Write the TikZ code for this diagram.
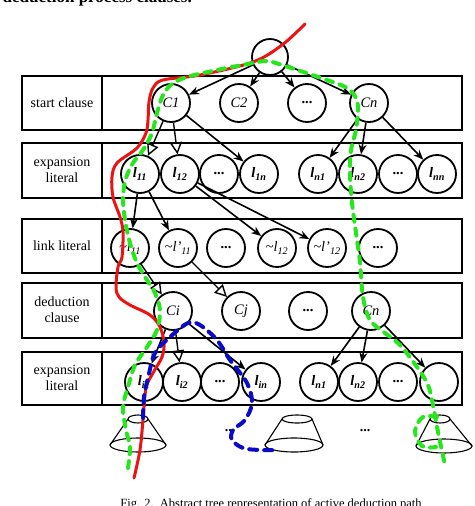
\documentclass[tikz,border=0pt]{standalone}
\usepackage{fontspec}
\setmainfont{Liberation Serif}
\usetikzlibrary{arrows.meta}
\definecolor{pathred}{RGB}{235,20,20}
\definecolor{pathgreen}{RGB}{40,230,30}
\definecolor{pathblue}{RGB}{10,10,200}
\newcommand{\bl}[1]{\textbf{\textit{l}}\textsubscript{\textbf{\textit{#1}}}}
\newcommand{\nl}[1]{\textasciitilde\textit{l}\textsubscript{\textit{#1}}}
\newcommand{\npl}[1]{\textasciitilde\textit{l'}\textsubscript{\textit{#1}}}
\newcommand{\dts}{\textbf{\upshape ...}}
\begin{document}
\begin{tikzpicture}[x=1pt,y=-1pt,
  lay/.style={draw, line width=1.3pt},
  nd/.style={circle, draw, line width=1.8pt, minimum size=38pt, inner sep=0pt,
    font=\fontsize{14.5}{16}\selectfont\itshape},
  lbl/.style={align=center, font=\fontsize{14}{16}\selectfont},
  arr/.style={-{Stealth[length=10pt,width=8pt]}, line width=1.6pt},
  harr/.style={-{Triangle[open,length=12pt,width=12pt]}, line width=1.4pt},
  cone/.style={draw, line width=1.1pt},
  redpath/.style={pathred, line width=3pt, line cap=round},
  greenpath/.style={pathgreen, line width=4pt, line cap=round, dash pattern=on 7pt off 7pt},
  bluepath/.style={pathblue, line width=4pt, line cap=round, dash pattern=on 8pt off 7pt}
]
\useasboundingbox (0,0) rectangle (474,506);
\clip (0,0) rectangle (474,506);
\fill[white] (0,0) rectangle (474,506);

% cut-off texts
\node[anchor=base east, font=\fontsize{17}{19}\selectfont\bfseries, inner sep=0pt] (toptext) at (192,2.5) {deduction process clauses.};
\node[anchor=base, font=\fontsize{12.5}{14}\selectfont, inner sep=0pt] (caption) at (271,507) {Fig. 2.\ \ Abstract tree representation of active deduction path};

% layer boxes
\foreach \ya/\yb in {76/130, 143/198, 219/273, 283/338, 352/405}{
  \draw[lay] (22,\ya) rectangle (462,\yb);
  \draw[lay] (102,\ya) -- (102,\yb);
}
\node[lbl] (lab1) at (62,103) {start clause};
\node[lbl] (lab2) at (62,170) {expansion\\literal};
\node[lbl] (lab3) at (62,246) {link literal};
\node[lbl] (lab4) at (62,310) {deduction\\clause};
\node[lbl] (lab5) at (62,378) {expansion\\literal};

% root
\node[nd, minimum size=36pt] (root) at (270,57) {};

% row 1
\node[nd] (C1) at (171,103) {C1};
\node[nd] (C2) at (239,103) {C2};
\node[nd] (Cd) at (307,103) {\dts};
\node[nd] (Cn) at (369,103) {Cn};

% row 2
\node[nd] (l11) at (140,174) {\bl{11}};
\node[nd] (l12) at (180,174) {\bl{12}};
\node[nd] (l1d) at (219,174) {\dts};
\node[nd] (l1n) at (259,174) {\bl{1n}};
\node[nd] (ln1) at (318,174) {\bl{n1}};
\node[nd] (ln2) at (358,174) {\bl{n2}};
\node[nd] (lnd) at (398,174) {\dts};
\node[nd] (lnn) at (437,174) {\bl{nn}};

% row 3
\node[nd] (k11) at (130,248) {\nl{11}};
\node[nd] (kp11) at (178,248) {\npl{11}};
\node[nd] (kd) at (226,248) {\dts};
\node[nd] (k12) at (277,248) {\nl{12}};
\node[nd] (kp12) at (327,248) {\npl{12}};
\node[nd] (kd2) at (378,248) {\dts};

% row 4
\node[nd] (Ci) at (173,311) {Ci};
\node[nd] (Cj) at (241,311) {Cj};
\node[nd] (Cdd) at (308,311) {\dts};
\node[nd] (Cn2) at (371,311) {Cn};

% row 5
\node[nd] (li1) at (144,382) {\bl{i1}};
\node[nd] (li2) at (182,382) {\bl{i2}};
\node[nd] (lid) at (220,382) {\dts};
\node[nd] (lin) at (261,382) {\bl{in}};
\node[nd] (mn1) at (319,382) {\bl{n1}};
\node[nd] (mn2) at (358,382) {\bl{n2}};
\node[nd] (mnd) at (398,382) {\dts};
\node[nd] (mnn) at (439,382) {};

% arrows
\draw[arr] (root) -- (C1);
\draw[arr] (root) -- (C2);
\draw[arr] (root) -- (Cd);
\draw[arr] (root) -- (Cn);
\draw[harr] (C1) -- (l11);
\draw[harr] (C1) -- (l12);
\draw[arr] (C1) -- (l1n);
\draw[arr] (Cn) -- (ln1);
\draw[arr] (Cn) -- (ln2);
\draw[arr] (Cn) -- (lnn);
\draw[arr] (l11) -- (k11);
\draw[arr] (l11) -- (kp11);
\draw[arr] (l12) -- (k12);
\draw[arr] (l12) -- (kp12);
\draw[harr] (k11) -- (Ci);
\draw[harr] (kp11) -- (Cj);
\draw[arr] (Ci) -- (li1);
\draw[harr] (Ci) -- (li2);
\draw[arr] (Ci) -- (lin);
\draw[arr] (Cn2) -- (mn1);
\draw[arr] (Cn2) -- (mn2);
\draw[arr] (Cn2) -- (mnn);

% cones
\draw[cone] (138,419) ellipse [x radius=10, y radius=4];
\draw[cone] (138,445) ellipse [x radius=28, y radius=7];
\draw[cone] (128,419) -- (110,445) (148,419) -- (166,445);
\draw[cone] (297,419) ellipse [x radius=15, y radius=4];
\draw[cone] (294,445) ellipse [x radius=29, y radius=7];
\draw[cone] (282,419) -- (265,445) (312,419) -- (323,445);
\draw[cone] (440,419) ellipse [x radius=10, y radius=4];
\draw[cone] (444,446) ellipse [x radius=28, y radius=7];
\draw[cone] (430,419) -- (416,446) (450,419) -- (472,446);
\node[font=\fontsize{14}{16}\selectfont\bfseries] (dots1) at (230,431) {...};
\node[font=\fontsize{14}{16}\selectfont\bfseries] (dots2) at (365,431) {...};

% red path
\draw[redpath] plot[smooth, tension=0.55] coordinates {(305,24) (282,45) (253,62) (200,75) (163,80) (153,88) (149,102) (148,120) (146,133) (137,148) (117,163) (112,177) (113,197) (120,217) (123,232) (122,257) (118,267) (116,287) (119,297) (130,305) (150,315) (160,327) (164,343) (162,357) (153,373) (146,388) (143,420) (140,450) (134,478)};

% green path
\draw[greenpath] plot[smooth, tension=0.55] coordinates {(128,468) (130,447) (126,430) (123,407) (128,387) (135,365) (147,347) (157,330) (160,310) (155,293) (147,280) (137,263) (130,243) (125,220) (123,197) (126,178) (133,163) (143,150) (152,133) (157,113) (163,95) (172,84) (187,77) (217,70) (253,63) (267,61) (282,65) (327,80) (347,88) (356,98) (358,110) (356,130) (351,150) (350,173) (352,203) (357,240) (360,262) (363,297) (370,320) (385,333) (400,345) (417,367) (428,385) (433,405) (438,432) (445,465)};
\draw[greenpath] plot[smooth, tension=0.6] coordinates {(437,417) (423,417) (415,431) (422,446) (436,447)};

% blue path
\draw[bluepath] plot[smooth, tension=0.55] coordinates {(143,418) (144,397) (148,378) (155,353) (170,337) (188,323) (200,325) (217,340) (230,360) (247,383) (252,403) (245,420) (233,430) (232,440) (243,448) (260,450) (278,450)};
\end{tikzpicture}
\end{document}
